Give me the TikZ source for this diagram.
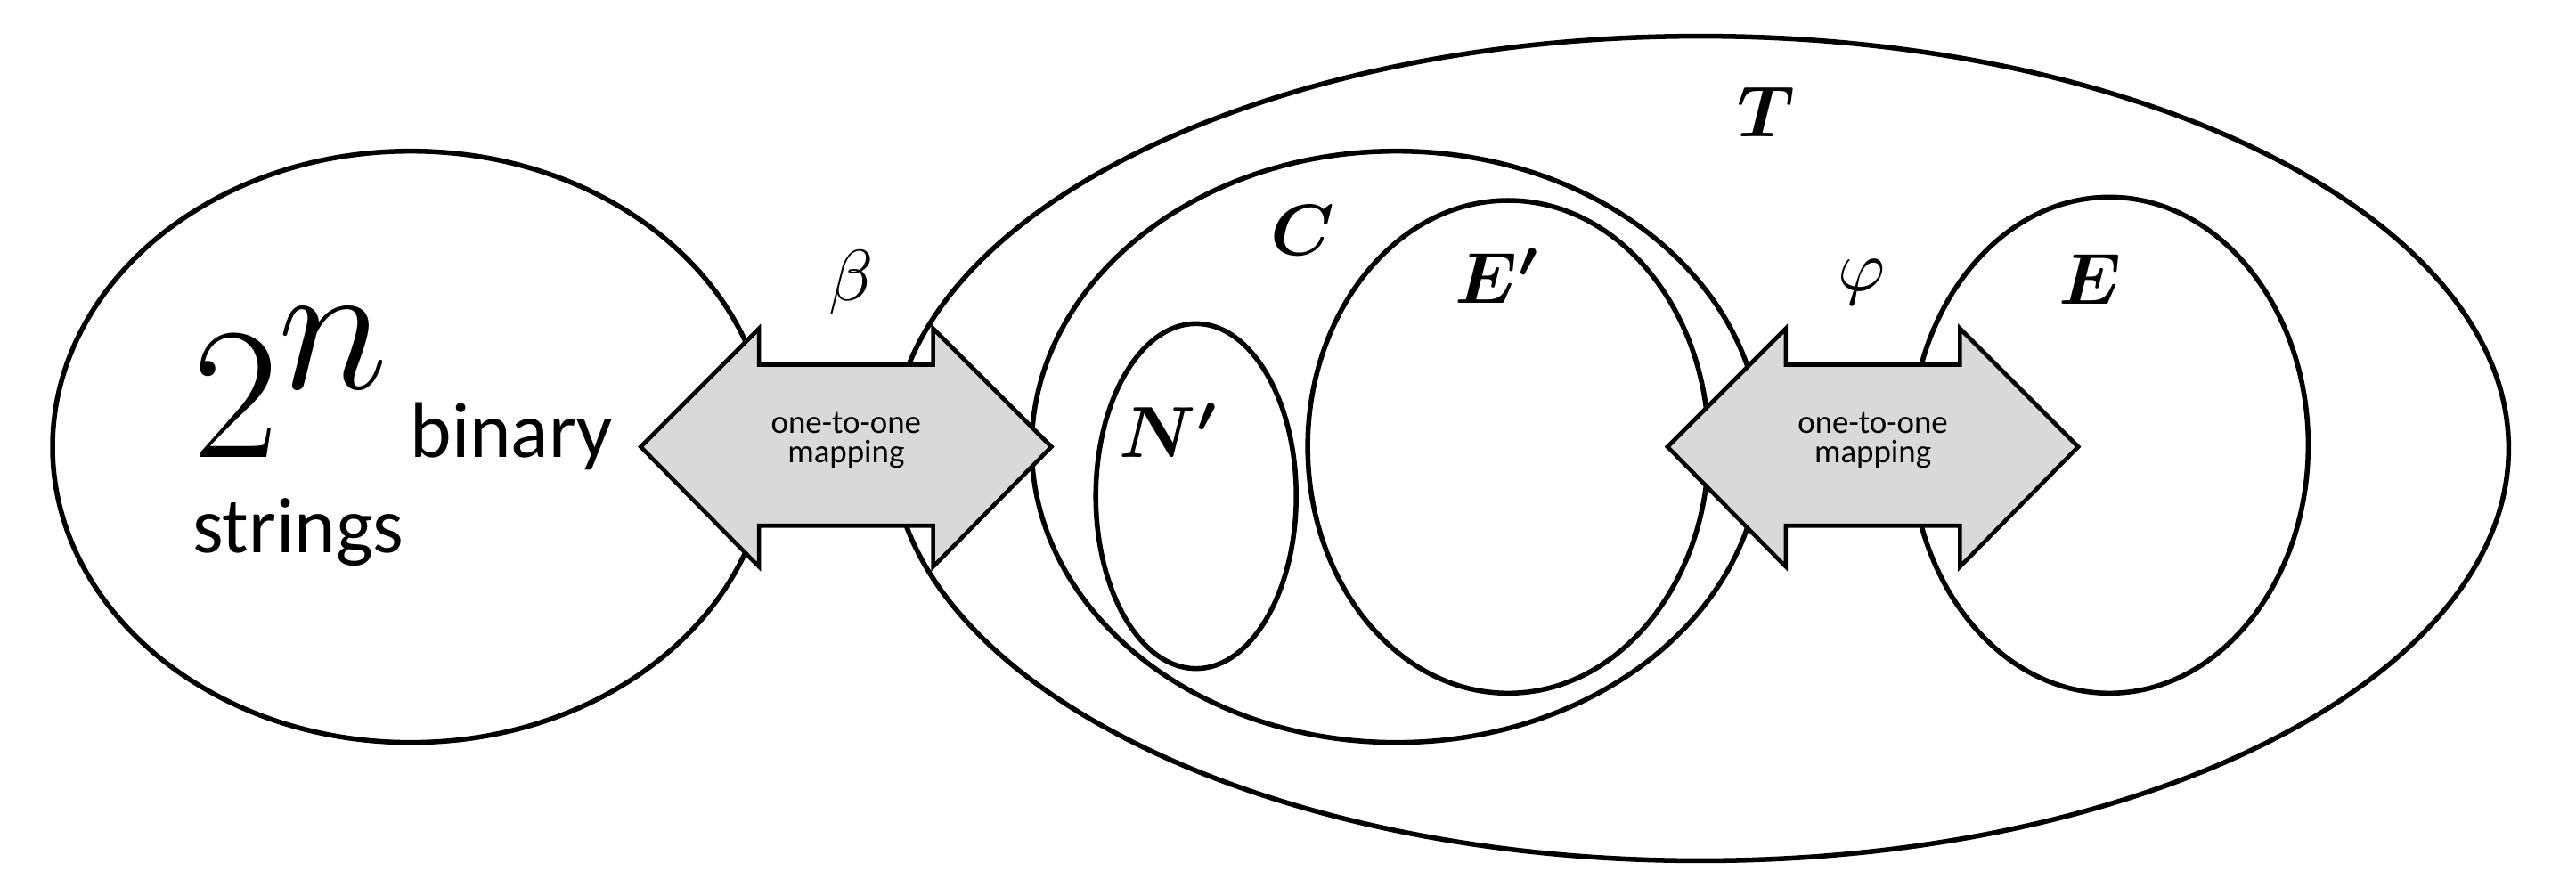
\documentclass[tikz,border=0pt]{standalone}
\usepackage{fontspec}
\setmainfont{Carlito}
\usepackage{amsmath,bm,graphicx}
\begin{document}
\begin{tikzpicture}[x=1pt,y=-1pt,line width=3pt,
  ell/.style={draw,black},
  arr/.style={draw,black,fill=gray!30,line width=2.5pt,line join=miter},
  lab/.style={scale=4.4},
  small/.style={font=\fontsize{20}{22}\selectfont,align=center}]
\useasboundingbox (0,0) rectangle (1568,545);
\draw[ell] (1035,273) ellipse [x radius=492,y radius=251];
\draw[ell] (250,272) ellipse [x radius=218,y radius=180];
\draw[ell] (850,272) ellipse [x radius=222,y radius=180];
\draw[ell] (728,302) ellipse [x radius=61,y radius=105];
\draw[ell] (918,272) ellipse [x radius=122,y radius=150];
\draw[ell] (1284,271) ellipse [x radius=121,y radius=151];
\draw[arr] (390,272) -- (462,200) -- (462,222) -- (568,222) -- (568,200) -- (640,272) -- (568,345) -- (568,320) -- (462,320) -- (462,345) -- cycle;
\draw[arr] (1015,272) -- (1087,200) -- (1087,222) -- (1193,222) -- (1193,200) -- (1265,272) -- (1193,345) -- (1193,320) -- (1087,320) -- (1087,345) -- cycle;
\node[small] (m1) at (515,268) {one-to-one\\[-4pt]mapping};
\node[small] (m2) at (1140,268) {one-to-one\\[-4pt]mapping};
\node[font=\fontsize{48}{58}\selectfont,align=left] (bs) at (245,266) {\scalebox{4.6}{$2^n$} binary\\strings};
\node[lab] (beta) at (518,172) {$\beta$};
\node[lab] (phi) at (1133,172) {$\varphi$};
\node[lab] (T) at (1075,68) {$\bm{T}$};
\node[lab] (C) at (793,140) {$\bm{C}$};
\node[lab] (Ep) at (912,168) {$\bm{E'}$};
\node[lab] (Np) at (712,262) {$\bm{N'}$};
\node[lab] (E) at (1272,170) {$\bm{E}$};
\end{tikzpicture}
\end{document}
